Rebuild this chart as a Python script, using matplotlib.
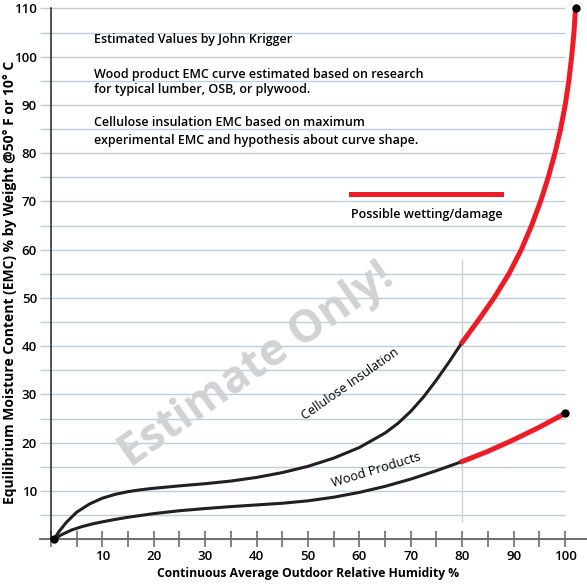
import numpy as np
import matplotlib
matplotlib.use("Agg")
import matplotlib.pyplot as plt

plt.rcParams['font.family'] = ['Open Sans', 'DejaVu Sans']

# curvas (humedad relativa %, EMC %)
cel_x = [0.6, 1.5, 3, 5, 7.5, 10, 12.5, 15, 17.5, 20, 25, 30, 35, 40, 45, 50,
         55, 60, 65, 67.5, 70, 72.5, 75, 77.5, 80]
cel_y = [0, 1.5, 3.5, 5.6, 7.3, 8.5, 9.3, 9.85, 10.25, 10.55, 11.05, 11.5,
         12.05, 12.8, 13.8, 15.1, 16.8, 19.0, 22.0, 24.0, 26.5, 29.5, 33.0,
         36.8, 40.8]
cel_red_x = [80, 82.9, 86.2, 89.1, 91.5, 93.5, 95.25, 96.75, 98.05, 99.15,
             100.05, 100.75, 101.3, 101.75, 102.05]
cel_red_y = [40.8, 45, 50, 55, 60, 65, 70, 75, 80, 85, 90, 95, 100, 105, 110]

wood_x = [0.6, 2, 4, 6, 8, 10, 12.5, 15, 20, 25, 30, 35, 40, 45, 50, 55, 60,
          65, 70, 75, 80]
wood_y = [0, 0.9, 1.9, 2.6, 3.15, 3.6, 4.1, 4.55, 5.3, 5.9, 6.35, 6.75, 7.1,
          7.45, 7.95, 8.7, 9.7, 10.95, 12.45, 14.2, 16.1]
wood_red_x = [80, 85, 90, 95, 100.1]
wood_red_y = [16.1, 18.2, 20.6, 23.2, 26.1]

x_ticks = list(range(0, 101, 5))
x_labels = [str(t) if t % 10 == 0 and t > 0 else '' for t in x_ticks]
y_ticks = list(range(10, 111, 10))
grid_y = list(range(0, 111, 5))

notas = [
    (103.6, "Estimated Values by John Krigger"),
    (96.4, "Wood product EMC curve estimated based on research"),
    (93.2, "for typical lumber, OSB, or plywood."),
    (86.3, "Cellulose insulation EMC based on maximum"),
    (82.7, "experimental EMC and hypothesis about curve shape."),
]

ROJO = '#ed1c24'
NEGRO = '#231f20'
AZUL = '#b9cfe0'

fig = plt.figure(figsize=(5.87, 5.88), dpi=100)
ax = fig.add_axes([0.0676, 0.0666, 0.9334, 0.9273])
ax.set_xlim(-2.2, 104.4)
ax.set_ylim(-2, 111)

# lineas horizontales de la cuadricula
ax.hlines(grid_y, -2.2, 100, color=AZUL, lw=1.0, zorder=1)
ax.vlines(80, 3.5, 58, color='#cfd0d2', lw=1.0, zorder=1)

# ejes
for s in ['top', 'right']:
    ax.spines[s].set_visible(False)
ax.spines['bottom'].set_position(('data', 0))
ax.spines['bottom'].set_color('#6d6e71')
ax.spines['bottom'].set_linewidth(1.4)
ax.spines['left'].set_position(('data', 0))
ax.spines['left'].set_bounds(0, 110)
ax.spines['left'].set_color(NEGRO)
ax.spines['left'].set_linewidth(1.1)
ax.spines['bottom'].set_zorder(2)

ax.set_xticks(x_ticks)
ax.set_xticklabels(x_labels)
ax.set_yticks(y_ticks)
ax.tick_params(axis='x', direction='inout', length=12, width=1.2,
               color='#6d6e71', pad=2, labelsize=9.5)
ax.tick_params(axis='y', length=0, pad=10, labelsize=9.5)
for lab in ax.get_xticklabels() + ax.get_yticklabels():
    lab.set_fontweight('semibold')

# marca de agua
ax.text(40.0, 36.0, "Estimate Only!", rotation=35, fontsize=32,
        fontweight='bold', color='#d1d2d4', ha='center', va='center',
        rotation_mode='anchor', zorder=1.5)

# curvas
ax.plot(cel_x, cel_y, color=NEGRO, lw=2.2, solid_capstyle='round',
        solid_joinstyle='round', zorder=3)
ax.plot(cel_red_x, cel_red_y, color=ROJO, lw=3.6, solid_joinstyle='round',
        zorder=3)
ax.plot(wood_x, wood_y, color=NEGRO, lw=2.2, solid_capstyle='round',
        solid_joinstyle='round', zorder=3)
ax.plot(wood_red_x, wood_red_y, color=ROJO, lw=3.6, solid_joinstyle='round',
        zorder=3)
ax.plot([cel_x[0], wood_red_x[-1], cel_red_x[-1]],
        [cel_y[0], wood_red_y[-1], cel_red_y[-1]],
        'o', color='black', ms=5, zorder=4, clip_on=False)

ax.text(58.3, 32.1, "Cellulose Insulation", rotation=35, fontsize=9.1,
        fontweight='medium', ha='center', va='center',
        rotation_mode='anchor', zorder=4)
ax.text(63.2, 14.3, "Wood Products", rotation=17, fontsize=9.3,
        fontweight='medium', ha='center', va='center',
        rotation_mode='anchor', zorder=4)

# notas de texto
for yy, txt in notas:
    ax.text(8.4, yy, txt, fontsize=9, fontweight='semibold', ha='left',
            va='center', zorder=4)

# muestra de leyenda
ax.plot([58.4, 87.5], [71.5, 71.5], color=ROJO, lw=3.6, zorder=3)
ax.text(73.1, 67.3, "Possible wetting/damage", fontsize=9,
        fontweight='semibold', ha='center', va='center', zorder=4)

fig.text(308 / 587, 1 - 574 / 588,
         "Continuous Average Outdoor Relative Humidity %", fontsize=8.7,
         fontweight='bold', ha='center', va='center')
fig.text(10 / 587, 1 - 282 / 588,
         "Equilibrium Moisture Content (EMC) % by Weight @50\u00b0 F or 10\u00b0 C",
         fontsize=10, fontweight='bold', rotation=90, ha='center', va='center')

fig.savefig('out.png', dpi=100)
